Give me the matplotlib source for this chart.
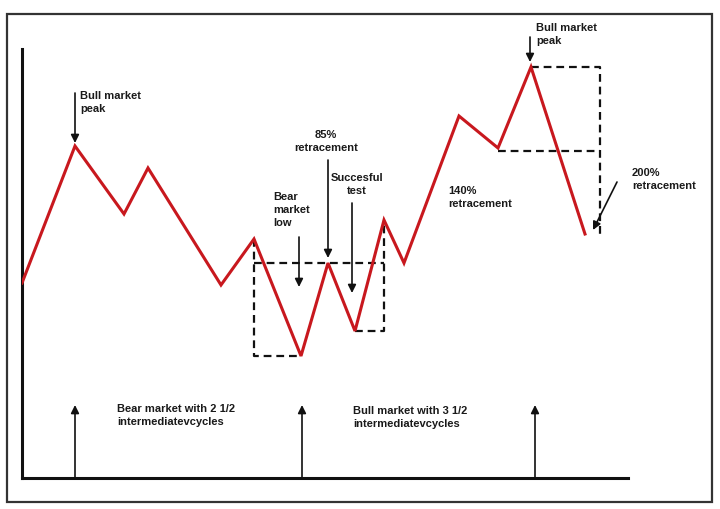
import matplotlib
matplotlib.use("Agg")
import matplotlib.pyplot as plt
from matplotlib.patches import Rectangle

# price path (time, price) of the idealised cycle
times = [0, 53, 102, 126, 199, 232, 279, 306, 333, 362, 382, 437, 476, 509, 563]
prices = [195, 332, 264, 310, 193, 239, 122, 215, 147, 258, 215, 362, 330, 411, 244]

# right edge of the retracement box after the second peak
box2_right = 578

# cycle markers along the time axis
cycle_times = [53, 280, 513]
cycle_height = 73

plt.rcParams['font.family'] = ['Liberation Sans', 'DejaVu Sans']

fig = plt.figure(figsize=(7.2, 5.09), dpi=100)
fig.add_artist(Rectangle((7 / 720, 7 / 509), 705 / 720, 488 / 509,
                         transform=fig.transFigure, fill=False,
                         edgecolor='#333333', lw=1.6))

ax = fig.add_axes([22 / 720, 31 / 509, 606 / 720, 429 / 509])
ax.set_xlim(0, 606)
ax.set_ylim(0, 429)
for side in ('top', 'right'):
    ax.spines[side].set_visible(False)
for side in ('left', 'bottom'):
    ax.spines[side].set_linewidth(2.2)
    ax.spines[side].set_color('#111111')
ax.set_xticks([])
ax.set_yticks([])

ax.plot(times, prices, color='#c8181e', lw=2.2, solid_joinstyle='miter', zorder=3)

dash = dict(color='#111111', lw=1.6, linestyle=(0, (3.5, 2.2)), zorder=2)
# box around the bear market low and the 85% retracement
ax.plot([times[5], times[5], times[6]], [prices[5], prices[6], prices[6]], **dash)
ax.plot([times[5], times[9]], [prices[7], prices[7]], **dash)
ax.plot([times[8], times[9], times[9]], [prices[8], prices[8], prices[9]], **dash)
# box around the final peak and the 200% retracement
ax.plot([times[13], box2_right, box2_right], [prices[13], prices[13], prices[14]], **dash)
ax.plot([times[12], box2_right], [prices[12] - 3, prices[12] - 3], **dash)

arrow = dict(arrowstyle='-|>', color='#111111', lw=1.2, mutation_scale=12,
             shrinkA=0, shrinkB=0)
txt = dict(fontsize=8, fontweight='bold', color='#1a1a1a', linespacing=1.38)


def pointer(x0, y0, x1, y1):
    ax.annotate('', xy=(x1, y1), xytext=(x0, y0), arrowprops=arrow,
                annotation_clip=False)


pointer(53, 385, 53, 335)
ax.text(58, 387, 'Bull market\npeak', ha='left', va='top', **txt)

pointer(306, 318, 306, 220)
ax.text(304, 348, '85%\nretracement', ha='center', va='top', **txt)

pointer(330, 275, 330, 185)
ax.text(335, 305, 'Succesful\ntest', ha='center', va='top', **txt)

pointer(277, 241, 277, 191)
ax.text(251, 286, 'Bear\nmarket\nlow', ha='left', va='top', **txt)

ax.text(426, 292, '140%\nretracement', ha='left', va='top', **txt)

pointer(508, 441, 508, 416)
ax.text(514, 455, 'Bull market\npeak', ha='left', va='top', **txt)

pointer(595, 296, 571, 248)
ax.text(610, 310, '200%\nretracement', ha='left', va='top', **txt)

for t in cycle_times:
    pointer(t, 0, t, cycle_height)
ax.text(95, 74, 'Bear market with 2 1/2\nintermediatevcycles', ha='left', va='top', **txt)
ax.text(331, 72, 'Bull market with 3 1/2\nintermediatevcycles', ha='left', va='top', **txt)

fig.savefig('out.png', dpi=100)
